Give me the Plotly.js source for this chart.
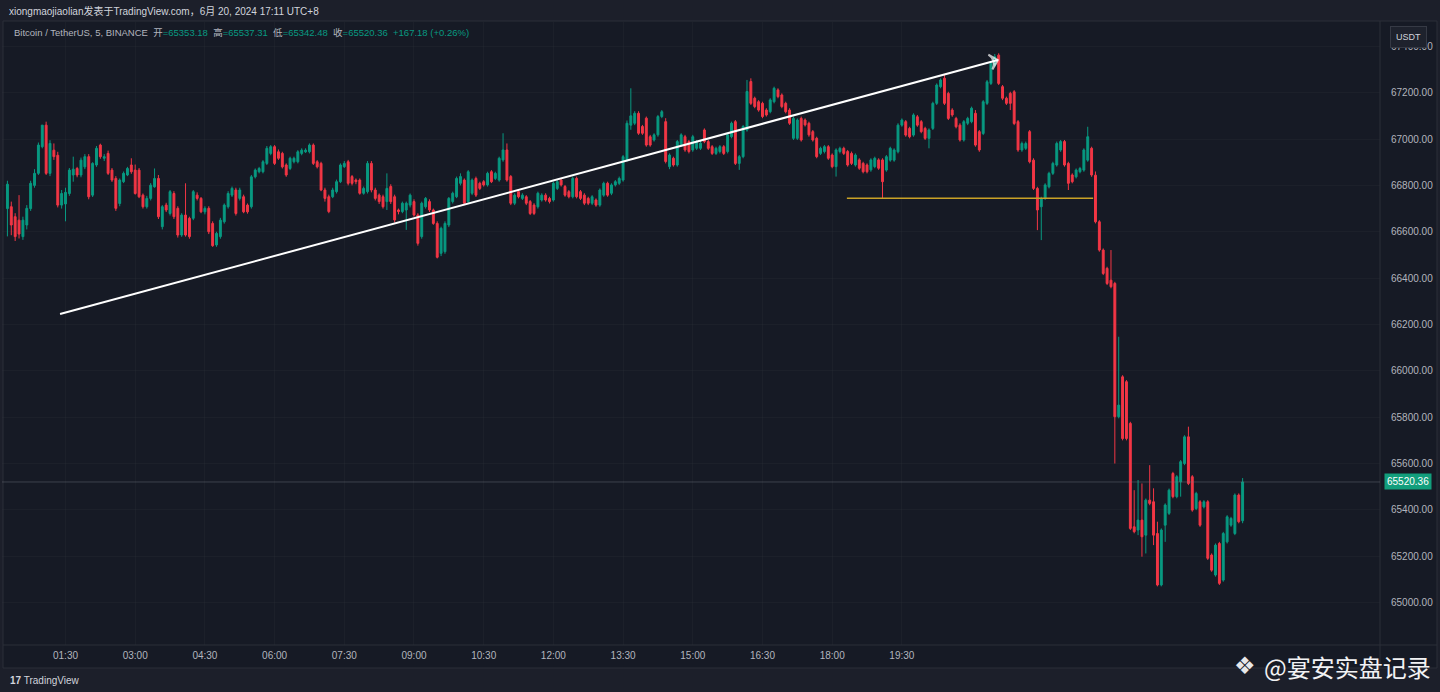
<!DOCTYPE html>
<html><head><meta charset="utf-8">
<script src="https://cdn.plot.ly/plotly-3.0.1.min.js"></script>
<style>html,body{margin:0;padding:0;background:#1c1f2a;overflow:hidden}#chart{width:1440px;height:692px}</style>
</head><body><div id="chart"></div>
<script>
// ---------- DATA ----------
const startTime = '2024-06-19T00:15:00Z';   // first 5-minute candle
const intervalMinutes = 5;

const openPrices = [
66700,66708,66665,66650,66579,66629,66700,66800,66852,66967,67060,66852,66952,66930,66715,66720,66765,66845,66873,66845,
66880,66924,66758,66888,66974,66917,66938,66866,66830,66722,66816,66845,66888,66866,66866,66758,66708,66744,66794,66830,
66622,66715,66679,66765,66701,66586,66672,66658,66658,66758,66744,66686,66701,66636,66543,66579,66643,66708,66758,66780,
66744,66751,66715,66708,66837,66859,66859,66895,66938,66967,66945,66938,66888,66873,66902,66902,66938,66945,66945,66974,
66902,66895,66780,
66751,66751,66773,66816,66881,66902,66838,66823,66823,66766,66773,66895,66780,66758,66751,66730,66795,66751,66694,66687,
66694,66715,66730,66672,66579,66708,66730,66694,66636,66507,66514,66629,66730,66751,66809,66823,66730,66766,66830,66809,
66816,66802,66859,66830,66823,66910,66953,66838,66723,66773,66744,66751,66730,66715,66708,66737,66758,66744,66737,66787,
66823,66795,66773,66751,66830,66773,66758,66744,66723,66737,66715,66758,66809,66766,66802,66809,66823,66910,
67060,67068,67111,67054,67090,67010,66996,67018,67097,67075,66881,66917,66888,66974,67010,66989,66953,66960,66960,67039,
66989,66967,66938,66946,66967,66946,67010,67075,66895,66924,67039,67248,67176,67161,67154,67125,67118,67161,67212,67190,
67154,67125,67003,67003,67089,67082,67068,67032,67003,66938,66946,66967,66931,66881,66946,66960,66946,66938,66888,66910,
66895,66888,66867,66881,66910,66910,
66866,66909,66909,66945,67060,67075,67046,67017,67096,67075,67046,67003,67046,67154,67226,67262,67197,67125,67089,67060,
66996,67068,67075,67111,67032,67024,67154,67240,67319,67362,67226,67176,67197,67204,67075,66953,66960,67032,66909,66787,
66708,66744,66794,66852,66888,66953,66989,66895,66845,66837,66859,66866,66909,66960,
66844,66643,66521,66442,66391,66377,65802,65974,65953,65773,65327,65313,65356,65291,65442,65435,65298,65076,65334,65385,
65557,65457,65521,65600,65715,65543,65406,65435,65413,65435,65205,65119,65255,65097,65262,65334,65298,65464,65353.18
];
const highPrices = [
66820,66730,66680,66758,66665,66715,66820,66870,66985,67060,67075,66995,66981,66945,66780,66790,66875,66924,66880,66920,
66935,66935,66900,66970,66980,66935,66950,66875,66840,66830,66860,66880,66917,66890,66875,66765,66755,66810,66873,66845,
66715,66725,66780,66775,66710,66680,66809,66665,66780,66770,66750,66710,66710,66645,66600,66660,66722,66775,66795,66790,
66790,66760,66722,66845,66873,66880,66909,66970,66974,66974,66955,66945,66895,66924,66924,66952,66960,66960,66981,66981,
66909,66902,66790,
66760,66790,66825,66895,66905,66910,66845,66830,66830,66795,66905,66905,66790,66765,66760,66852,66805,66760,66700,66730,
66730,66765,66740,66680,66730,66750,66740,66700,66645,66622,66645,66750,66773,66838,66852,66830,66866,66830,66838,66816,
66823,66859,66866,66859,66924,67025,66981,66845,66766,66780,66766,66758,66737,66723,66773,66766,66766,66751,66816,66823,
66830,66802,66780,66838,66838,66780,66766,66751,66758,66744,66787,66816,66816,66809,66823,66838,66931,67080,
67219,67120,67120,67061,67097,67018,67025,67104,67125,67090,66938,66924,66996,67025,67018,66996,67018,66996,66996,67046,
66996,66974,66967,66974,66974,67025,67075,67082,66931,67061,67255,67262,67183,67168,67161,67133,67176,67226,67219,67197,
67161,67133,67097,67089,67097,67089,67075,67039,67010,66967,66974,66974,66938,66960,66967,66967,66953,66946,66938,66917,
66902,66895,66917,66924,66917,66917,
66931,66967,66960,67068,67089,67082,67053,67111,67104,67082,67053,67046,67161,67240,67262,67276,67204,67133,67096,67068,
67082,67096,67140,67125,67039,67168,67255,67334,67367,67370,67233,67183,67204,67211,67082,66989,66989,67039,66917,66794,
66751,66809,66859,66902,66989,66996,66996,66902,66852,66873,66880,66960,67053,66967,
66860,66650,66528,66449,66521,66384,66147,65981,65960,65780,65485,65529,65514,65449,65593,65493,65349,65320,65428,65492,
65564,65550,65615,65722,65759,65550,65478,65442,65442,65442,65212,65255,65262,65305,65377,65370,65471,65471,65537.31
];
const lowPrices = [
66580,66585,66560,66571,66565,66610,66690,66790,66845,66960,66845,66840,66910,66705,66700,66645,66755,66816,66835,66835,
66870,66740,66750,66880,66915,66905,66845,66815,66690,66710,66810,66840,66850,66760,66745,66700,66700,66735,66790,66655,
66610,66685,66670,66655,66575,66578,66579,66570,66650,66735,66680,66675,66590,66535,66535,66570,66635,66700,66750,66670,
66735,66680,66678,66700,66830,66852,66852,66888,66930,66888,66910,66873,66837,66866,66895,66895,66930,66940,66938,66888,
66873,66775,66730,
66680,66745,66765,66810,66875,66800,66800,66805,66760,66760,66765,66770,66735,66720,66700,66694,66720,66640,66675,66680,
66608,66705,66665,66540,66570,66700,66685,66630,66485,66495,66505,66620,66722,66745,66800,66715,66722,66758,66750,66780,
66795,66795,66810,66823,66816,66902,66816,66715,66715,66744,66737,66715,66672,66672,66700,66730,66730,66722,66730,66780,
66795,66751,66744,66744,66744,66737,66715,66715,66715,66708,66708,66751,66751,66758,66795,66802,66816,66902,
67040,67060,67018,67018,66967,66967,66989,67010,67090,66895,66870,66881,66881,66967,66945,66938,66945,66953,66953,66982,
66953,66931,66931,66938,66931,66938,67003,66888,66867,66917,67032,67147,67133,67118,67090,67097,67111,67154,67176,67133,
67111,67061,66996,66996,66989,67054,67010,66989,66917,66931,66938,66910,66874,66838,66938,66931,66881,66888,66881,66867,
66852,66852,66859,66874,66867,66744,
66859,66902,66902,66938,67053,67010,67003,67010,67053,67025,66996,66960,67039,67147,67219,67147,67082,67096,67046,66989,
66989,67060,67068,66967,66945,67017,67147,67233,67312,67233,67168,67147,67125,67060,66945,66945,66953,66895,66780,66607,
66564,66737,66787,66845,66881,66945,66881,66780,66809,66830,66852,66859,66902,66837,
66636,66514,66413,66370,66356,65600,65795,65700,65700,65313,65299,65291,65198,65212,65420,65248,65070,65070,65262,65378,
65450,65450,65457,65593,65507,65392,65399,65327,65406,65184,65133,65112,65076,65090,65255,65327,65291,65342,65342.48
];
const closePrices = [
66805,66629,66579,66590,66650,66701,66809,66852,66974,67060,66852,66981,66924,66715,66765,66770,66866,66870,66845,66909,
66924,66751,66895,66960,66924,66924,66852,66823,66701,66823,66852,66873,66859,66765,66751,66708,66744,66801,66830,66665,
66708,66694,66773,66665,66586,66672,66586,66579,66773,66744,66686,66701,66600,66540,66593,66650,66715,66765,66787,66679,
66780,66686,66686,66837,66866,66873,66902,66960,66967,66895,66917,66880,66845,66917,66917,66945,66952,66952,66974,66895,
66880,66780,66744,
66687,66780,66816,66888,66895,66809,66809,66816,66766,66787,66895,66780,66744,66730,66708,66787,66730,66651,66687,66723,
66723,66758,66672,66550,66723,66744,66694,66636,66490,66615,66636,66744,66766,66830,66838,66723,66859,66823,66758,66787,
66802,66852,66816,66852,66917,66953,66823,66723,66758,66751,66758,66723,66679,66679,66766,66758,66737,66730,66809,66816,
66802,66758,66751,66830,66751,66744,66723,66723,66751,66715,66780,66809,66758,66802,66816,66830,66924,67068,
67100,67111,67025,67025,66974,66974,67018,67097,67118,66903,66931,66888,66989,67018,66953,66946,67010,66989,66982,66989,
66960,66938,66960,66967,66938,67018,67068,66895,66924,67054,67205,67154,67140,67125,67097,67104,67169,67219,67183,67140,
67118,67068,67089,67082,66996,67061,67018,66996,66924,66960,66967,66917,66881,66953,66960,66938,66888,66895,66931,66874,
66859,66859,66910,66917,66874,66816,
66924,66960,66953,67060,67082,67017,67010,67104,67060,67032,67003,67039,67154,67233,67255,67154,67089,67104,67053,66996,
67075,67089,67133,66974,66953,67161,67247,67326,67355,67240,67176,67154,67154,67067,66953,66981,66981,66902,66787,66694,
66744,66802,66852,66895,66981,66989,66888,66809,66816,66866,66873,66953,67010,66845,
66643,66521,66420,66377,66363,65802,65852,65708,65708,65320,65306,65356,65284,65442,65428,65291,65076,65313,65421,65485,
65457,65543,65608,65715,65514,65399,65471,65334,65435,65191,65140,65248,65083,65298,65370,65363,65464,65349,65520.36
];

const tickTimes  = ['2024-06-19 01:30','2024-06-19 03:00','2024-06-19 04:30','2024-06-19 06:00','2024-06-19 07:30',
                    '2024-06-19 09:00','2024-06-19 10:30','2024-06-19 12:00','2024-06-19 13:30','2024-06-19 15:00',
                    '2024-06-19 16:30','2024-06-19 18:00','2024-06-19 19:30'];
const tickLabels = ['01:30','03:00','04:30','06:00','07:30','09:00','10:30','12:00','13:30','15:00','16:30','18:00','19:30'];

// hand-drawn trend line (white arrow) and support line (yellow)
const trendTimes   = ['2024-06-19 01:23','2024-06-19 21:34'];
const trendPrices  = [66245, 67341];
const supportTimes = ['2024-06-19 18:19','2024-06-19 23:37'];
const supportPrices = [66745, 66745];

// ---------- BUILD ----------
function fmt(d){const p=n=>String(n).padStart(2,'0');
  return d.getUTCFullYear()+'-'+p(d.getUTCMonth()+1)+'-'+p(d.getUTCDate())+' '+p(d.getUTCHours())+':'+p(d.getUTCMinutes())+':00';}
const t0 = new Date(startTime).getTime();
const times = openPrices.map((_, i) => fmt(new Date(t0 + i*intervalMinutes*60000)));

const W=1440,H=692, PL=2, PR=1380, PT=22, PB=645;
const fx = x => (x-PL)/(PR-PL);
const fy = y => (PB-y)/(PB-PT);

const n = closePrices.length;
const lastO = openPrices[n-1], lastH = highPrices[n-1], lastL = lowPrices[n-1], lastC = closePrices[n-1];
const chg = lastC - lastO, chgPct = chg/lastO*100;
const UP='#089981', DN='#f23645';
const g = s => '<span style="color:'+UP+'">'+s+'</span>';

const traces = [
  {type:'candlestick', x:times, open:openPrices, high:highPrices, low:lowPrices, close:closePrices,
   increasing:{line:{color:UP,width:1}, fillcolor:UP},
   decreasing:{line:{color:DN,width:1}, fillcolor:DN},
   whiskerwidth:0, hoverinfo:'skip', showlegend:false},
  {type:'scatter', mode:'lines', x:supportTimes, y:supportPrices,
   line:{color:'#c9a227', width:1.5}, hoverinfo:'skip', showlegend:false},
  {type:'scatter', mode:'lines+markers', x:trendTimes, y:trendPrices,
   line:{color:'#ffffff', width:2},
   marker:{symbol:['circle','arrow-wide-open'], size:[0,11], color:'#ffffff', angleref:'previous',
           line:{color:'#ffffff', width:2}},
   hoverinfo:'skip', showlegend:false}
];

const FONT = 'Liberation Sans, Arial, Noto Sans CJK SC, sans-serif';
const GRID = 'rgba(50,54,66,0.22)';
const layout = {
  width:W, height:H,
  margin:{l:PL, r:W-PR, t:PT, b:H-PB},
  paper_bgcolor:'#1c1f2a', plot_bgcolor:'rgba(0,0,0,0)',
  font:{family:FONT, color:'#b2b5be', size:10},
  showlegend:false,
  xaxis:{type:'date', range:['2024-06-19 00:08:00','2024-06-20 05:47:24'],
         rangeslider:{visible:false}, tickmode:'array', tickvals:tickTimes, ticktext:tickLabels,
         showgrid:true, gridcolor:GRID, gridwidth:1, zeroline:false, showline:false,
         ticks:'', ticklabelstandoff:3, tickfont:{size:10, color:'#b2b5be'}, fixedrange:true},
  yaxis:{side:'right', range:[64817, 67505], tick0:0, dtick:200, tickformat:'.2f',
         showgrid:true, gridcolor:GRID, gridwidth:1, zeroline:false, showline:false,
         ticks:'', ticklabelstandoff:10, tickfont:{size:10, color:'#b2b5be'}, fixedrange:true},
  shapes:[
    {type:'rect', xref:'paper', yref:'paper', x0:fx(3), x1:fx(1437), y0:fy(668), y1:fy(21),
     fillcolor:'#161a25', line:{color:'#2a2e39', width:1}, layer:'below'},
    {type:'line', xref:'paper', yref:'paper', x0:fx(3), x1:fx(1437), y0:fy(645), y1:fy(645),
     line:{color:'#2a2e39', width:1}},
    {type:'line', xref:'paper', yref:'paper', x0:1, x1:1, y0:fy(668), y1:fy(21),
     line:{color:'#2a2e39', width:1}},
    {type:'line', xref:'paper', yref:'y', x0:0, x1:1, y0:lastC, y1:lastC,
     line:{color:'rgba(120,124,136,0.4)', width:1}}
  ],
  annotations:[
    {xref:'paper', yref:'paper', x:fx(7), y:fy(11), xanchor:'left', yanchor:'middle', showarrow:false,
     text:'xiongmaojiaolian发表于TradingView.com，6月 20, 2024 17:11 UTC+8',
     font:{size:10, color:'#d1d4dc', family:FONT}},
    {xref:'paper', yref:'paper', x:fx(12), y:fy(33), xanchor:'left', yanchor:'middle', showarrow:false,
     text:'Bitcoin / TetherUS, 5, BINANCE  开'+g('='+lastO.toFixed(2))+'  高'+g('='+lastH.toFixed(2))+
          '  低'+g('='+lastL.toFixed(2))+'  收'+g('='+lastC.toFixed(2))+'  '+
          g((chg>=0?'+':'')+chg.toFixed(2)+' ('+(chg>=0?'+':'')+chgPct.toFixed(2)+'%)'),
     font:{size:9.5, color:'#b2b5be', family:FONT}},
    {xref:'paper', yref:'paper', x:fx(1408), y:fy(37), xanchor:'center', yanchor:'middle', showarrow:false,
     text:'USDT', bgcolor:'#1e222d', bordercolor:'#363a45', borderwidth:1, borderpad:5,
     font:{size:9, color:'#d1d4dc', family:FONT}},
    {xref:'paper', yref:'y', x:1, y:lastC, xanchor:'left', yanchor:'middle', xshift:4, showarrow:false,
     text:lastC.toFixed(2), bgcolor:'#129e7c', borderpad:2,
     font:{size:10, color:'#ffffff', family:FONT}},
    {xref:'paper', yref:'paper', x:fx(8), y:fy(680), xanchor:'left', yanchor:'middle', showarrow:false,
     text:'<b>17</b> TradingView', font:{size:10, color:'#d1d4dc', family:FONT}},
    {xref:'paper', yref:'paper', x:fx(1245), y:fy(666), xanchor:'center', yanchor:'middle', showarrow:false,
     text:'❖', font:{size:24, color:'#e8e8ea', family:'DejaVu Sans'}},
    {xref:'paper', yref:'paper', x:fx(1433), y:fy(666), xanchor:'right', yanchor:'middle', showarrow:false,
     text:'@宴安实盘记录', font:{size:24, color:'#f2f2f4', family:'Noto Sans CJK SC'}}
  ]
};

Plotly.newPlot('chart', traces, layout, {staticPlot:true, displayModeBar:false});
</script>
</body></html>
